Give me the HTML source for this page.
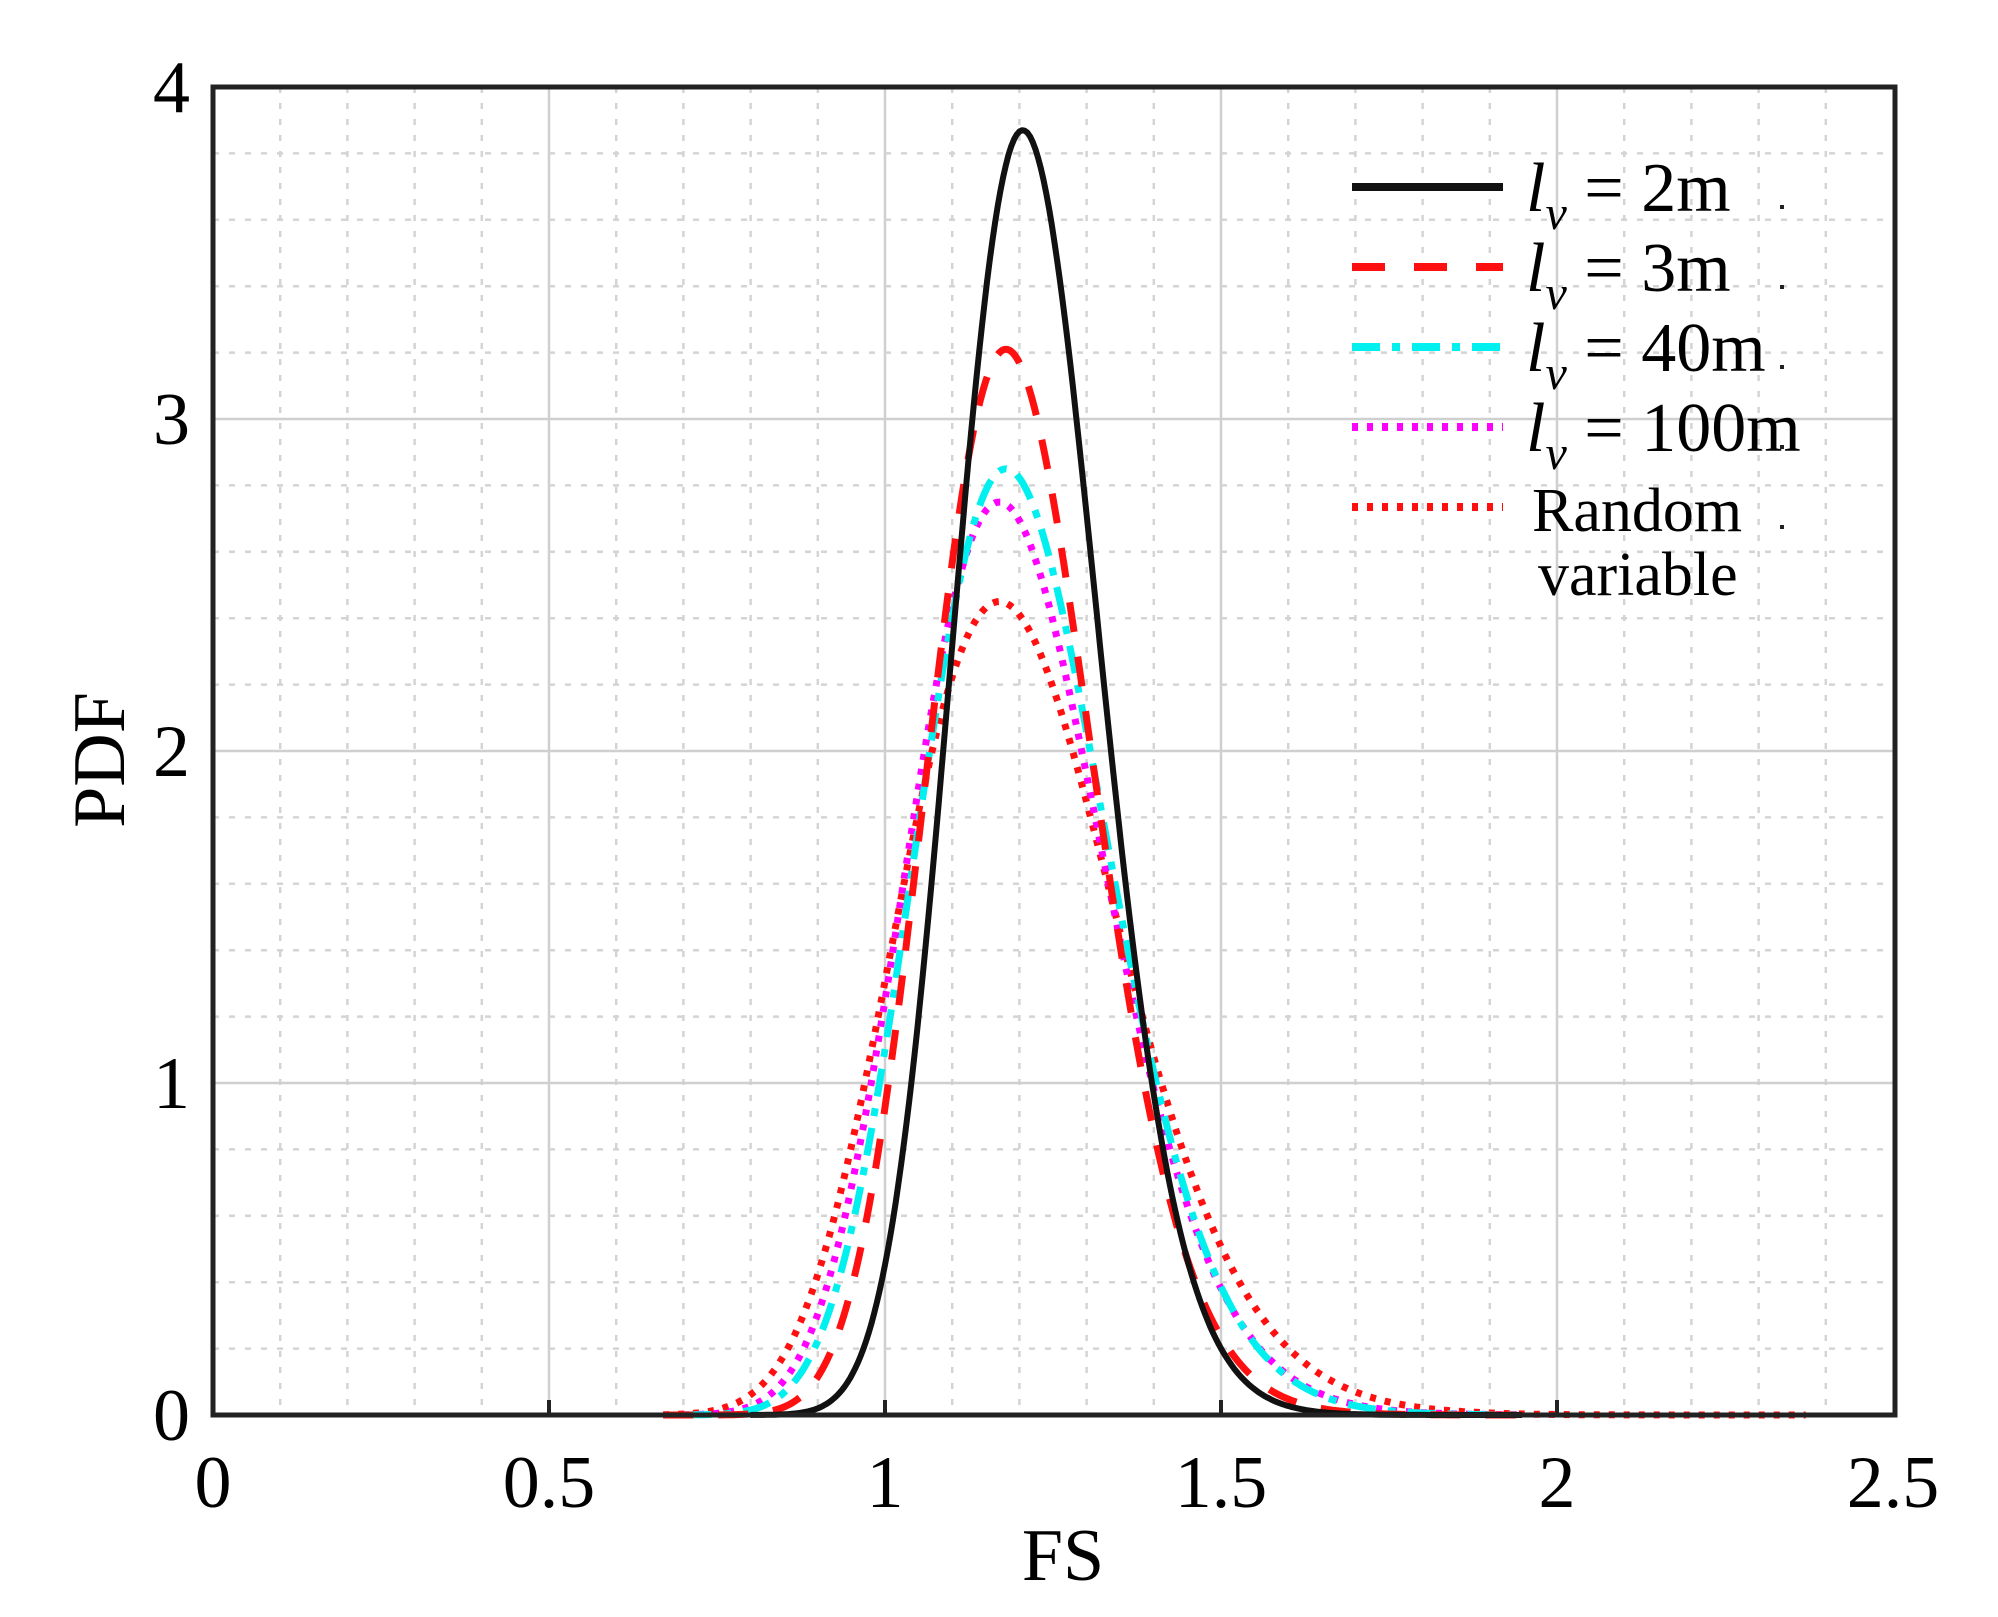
<!DOCTYPE html>
<html><head><meta charset="utf-8"><style>
html,body{margin:0;padding:0;background:#fff;}
svg{display:block;}
text{font-family:"Liberation Serif",serif;fill:#000;}
</style></head><body>
<svg id="s" width="1998" height="1617" viewBox="0 0 1998 1617" xmlns="http://www.w3.org/2000/svg">
<g id="grid"></g>
<g id="curves" fill="none" stroke-linejoin="round"></g>
<rect x="213" y="87" width="1682" height="1328" fill="none" stroke="#222" stroke-width="5"/>
<g id="labels" font-size="74"></g>
<text x="1063" y="1580" font-size="74" text-anchor="middle">FS</text>
<text transform="translate(124,760) rotate(-90)" font-size="74" text-anchor="middle">PDF</text>
<g id="legend"></g>
</svg>
<script>
var NS="http://www.w3.org/2000/svg";
function px(x){return 213+672*x;} function py(y){return 1415-332*y;}
function el(p,tag,a,txt){var e=document.createElementNS(NS,tag);for(var k in a)e.setAttribute(k,a[k]);if(txt!==undefined)e.textContent=txt;p.appendChild(e);return e;}
var g=document.getElementById('grid');
for(var i=1;i<25;i++){var x=px(i/10);var maj=(i%5==0);
 el(g,'line',{x1:x,y1:87,x2:x,y2:1415,stroke:maj?'#cfcfcf':'#d4d4d4','stroke-width':2.5,'stroke-dasharray':maj?'':'6 10'});}
for(var j=1;j<20;j++){var y=py(j/5);var maj=(j%5==0);
 el(g,'line',{x1:213,y1:y,x2:1895,y2:y,stroke:maj?'#cfcfcf':'#d4d4d4','stroke-width':2.5,'stroke-dasharray':maj?'':'6 10'});}
var L=document.getElementById('labels');
['0','0.5','1','1.5','2','2.5'].forEach(function(t,i){el(L,'text',{x:px(i*0.5),y:1507,'text-anchor':'middle'},t);});
for(var k=0;k<=4;k++){el(L,'text',{x:190,y:py(k)+25,'text-anchor':'end'},''+k);}
for(var i=1;i<5;i++){el(L,'line',{x1:px(i/2),y1:1415,x2:px(i/2),y2:1400,stroke:'#222','stroke-width':4});}
var C=document.getElementById('curves');
function logn(m,s,x){var mu=Math.log(m)+s*s;return Math.exp(-Math.pow(Math.log(x)-mu,2)/(2*s*s))/(x*s*Math.sqrt(2*Math.PI));}
function curve(m,s,h,a,b,st){var peak=logn(m,s,m);var d='';
 for(var x=a;x<=b+1e-9;x+=0.004){var y=logn(m,s,x)/peak*h;d+=(d?'L':'M')+px(x).toFixed(1)+','+py(y).toFixed(1);}
 st.d=d;el(C,'path',st);}
curve(1.17,0.14,2.45,0.67,2.37,{stroke:'#ff1010','stroke-width':7,'stroke-dasharray':'6 9'});
curve(1.17,0.125,2.75,0.70,1.95,{stroke:'#ff00ff','stroke-width':7,'stroke-dasharray':'6 9'});
curve(1.18,0.12,2.85,0.70,1.95,{stroke:'#00f0f0','stroke-width':7,'stroke-dasharray':'28 12 8 12'});
curve(1.18,0.105,3.21,0.67,1.95,{stroke:'#ff1010','stroke-width':7,'stroke-dasharray':'30 25'});
curve(1.205,0.09,3.87,0.80,1.95,{stroke:'#111','stroke-width':6});
var G=document.getElementById('legend');
var rows=[{st:{stroke:'#111','stroke-width':8},t:'2m'},{st:{stroke:'#ff1010','stroke-width':8,'stroke-dasharray':'33 29'},t:'3m'},
{st:{stroke:'#00f0f0','stroke-width':8,'stroke-dasharray':'28 12 8 12'},t:'40m'},{st:{stroke:'#ff00ff','stroke-width':8,'stroke-dasharray':'6 9'},t:'100m'},
{st:{stroke:'#ff1010','stroke-width':8,'stroke-dasharray':'6 9'},t:null}];
rows.forEach(function(r,i){var y=187+80*i;var a=r.st;a.x1=1352;a.x2=1503;a.y1=y;a.y2=y;el(G,'line',a);
 el(G,'rect',{x:1780,y:y+18,width:4,height:4,fill:'#222'});
 if(r.t){var t=el(G,'text',{x:1526,y:y+24,'font-size':70});
  el(t,'tspan',{'font-style':'italic'},'l');el(t,'tspan',{'font-style':'italic','font-size':48,dy:18},'v');
  el(t,'tspan',{dy:-18},' = '+r.t);}
 else{el(G,'text',{x:1532,y:y+24,'font-size':62},'Random');el(G,'text',{x:1538,y:y+88,'font-size':62},'variable');}
});
</script>
</body></html>
